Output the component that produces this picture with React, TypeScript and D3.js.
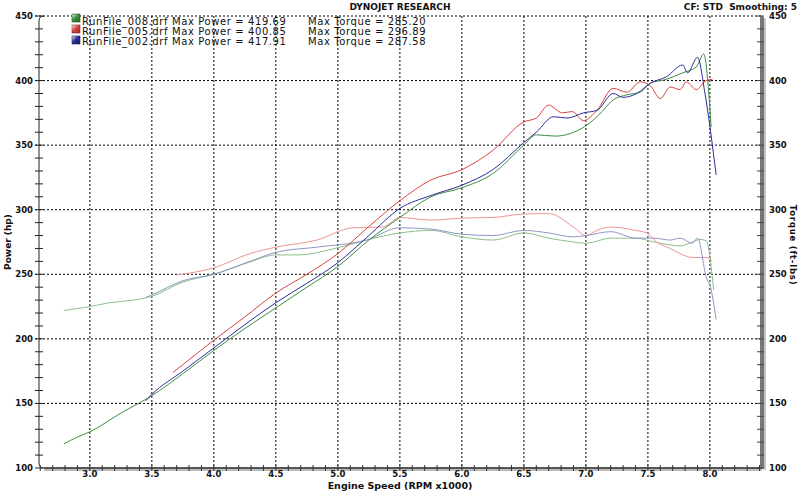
import React from 'react';
import * as d3 from 'd3';

// --- data (rpm x1000, hp / ft-lbs) ---
const runNames = ['RunFile_008.drf', 'RunFile_005.drf', 'RunFile_002.drf'];
const maxPower = ['419.69', '400.85', '417.91'];
const maxTorque = ['285.20', '296.89', '287.58'];

const rpm008Hp = [2.79, 2.9, 3.0, 3.25, 3.5, 3.75, 4.0, 4.25, 4.5, 4.75, 5.0, 5.25, 5.5, 5.75, 6.0, 6.25, 6.5, 6.6, 6.75, 7.0, 7.1, 7.22, 7.33, 7.44, 7.52, 7.65, 7.78, 7.89, 7.95, 8.01];
const hp008 = [118.6, 124, 128, 142.5, 156, 173, 191, 208, 224, 240, 256, 276.5, 294, 310, 317, 328, 350, 358, 357, 365, 373, 385, 389, 391, 398, 401, 406, 410.5, 420.5, 364];

const rpm005Hp = [3.67, 3.75, 4.0, 4.25, 4.5, 4.75, 5.0, 5.25, 5.5, 5.75, 6.0, 6.25, 6.5, 6.6, 6.7, 6.81, 6.89, 6.98, 7.09, 7.22, 7.33, 7.44, 7.52, 7.6, 7.68, 7.76, 7.81, 7.89, 7.97, 8.02];
const hp005 = [174, 180, 199, 217, 235.5, 250, 266, 287, 307, 323, 331, 346, 368, 371, 381, 375, 376, 369, 377, 394, 391, 399, 396, 386, 395, 393, 399, 393, 400, 401];

const rpm002Hp = [3.45, 3.5, 3.75, 4.0, 4.25, 4.5, 4.75, 5.0, 5.25, 5.5, 5.75, 6.0, 6.25, 6.5, 6.6, 6.74, 6.85, 6.98, 7.09, 7.22, 7.3, 7.41, 7.52, 7.65, 7.78, 7.82, 7.9, 7.96, 8.05];
const hp002 = [152, 157, 175, 193, 211, 228, 243, 259, 280, 301, 311, 319, 331, 352, 360, 372, 371, 375, 377, 390, 387, 390, 398, 403, 412, 406, 418, 390, 327];

const rpm008Tq = [2.79, 3.0, 3.16, 3.35, 3.5, 3.75, 4.0, 4.29, 4.5, 4.69, 4.96, 5.23, 5.5, 5.75, 6.0, 6.25, 6.5, 6.7, 6.9, 7.0, 7.2, 7.4, 7.55, 7.68, 7.76, 7.86, 7.92, 7.97, 8.03];
const tq008 = [222, 225, 228, 230, 233, 244, 250, 259.5, 265, 265, 269.6, 276.5, 282, 284, 279, 276.5, 282, 278, 275, 274, 278, 278, 275, 272.7, 272, 275, 277, 276, 238];

const rpm005Tq = [3.7, 4.0, 4.29, 4.5, 4.83, 5.12, 5.36, 5.5, 5.75, 6.0, 6.25, 6.5, 6.7, 6.9, 7.0, 7.09, 7.2, 7.4, 7.49, 7.57, 7.68, 7.76, 7.86, 7.97, 8.02];
const tq005 = [249.5, 255, 266, 271, 276.5, 286, 286.6, 294, 292, 293.5, 294, 296.7, 297, 286.6, 280, 284, 286.6, 284, 282, 275, 270, 266, 263, 263, 260];

const rpm002Tq = [3.45, 3.5, 3.75, 4.0, 4.29, 4.5, 4.83, 5.23, 5.5, 5.75, 6.0, 6.25, 6.5, 6.7, 6.9, 7.0, 7.2, 7.4, 7.55, 7.68, 7.76, 7.86, 7.9, 7.97, 8.01, 8.05];
const tq002 = [232, 234, 245, 250, 260, 267, 271, 276.5, 286, 285, 281, 280, 284, 282, 279, 280, 283, 278, 278, 276.5, 278, 274, 278, 248, 238, 215];

const xTicks = [3.0, 3.5, 4.0, 4.5, 5.0, 5.5, 6.0, 6.5, 7.0, 7.5, 8.0];
const yTicks = [100, 150, 200, 250, 300, 350, 400, 450];

const runColors = ['#3d8f3d', '#d8443e', '#2c2c98'];
const torqueColors = ['#8cbf8c', '#ee9494', '#8d97c6'];

const W = 800;
const H = 494;
const FONT = '"DejaVu Sans", Verdana, sans-serif';

const zip = (xs: number[], ys: number[]) => xs.map((r, i) => [r, ys[i]] as [number, number]);

const App: React.FC = () => {
  const x = d3.scaleLinear().domain([2.59, 8.42]).range([39, 762]);
  const y = d3.scaleLinear().domain([100, 450]).range([468, 16]);

  const line = d3.line<[number, number]>()
    .x(d => x(d[0]))
    .y(d => y(d[1]))
    .curve(d3.curveMonotoneX);

  const powerSeries = [zip(rpm008Hp, hp008), zip(rpm005Hp, hp005), zip(rpm002Hp, hp002)];
  const torqueSeries = [zip(rpm008Tq, tq008), zip(rpm005Tq, tq005), zip(rpm002Tq, tq002)];

  const [x0, x1] = x.range();
  const [yb, yt] = y.range();

  const minorY = d3.range(100, 451, 10);
  const minorX = d3.range(26, 85, 1).map(v => v / 10);

  return (
    <svg width={W} height={H} style={{ position: 'absolute', left: 0, top: 0, background: '#fff' }} fontFamily={FONT}>
      <defs>
        {runColors.map((c, i) => (
          <linearGradient key={i} id={`sq${i}`} x1="0" y1="0" x2="1" y2="1">
            <stop offset="0" stopColor="#fff" />
            <stop offset="0.45" stopColor={c} />
            <stop offset="1" stopColor={d3.color(c)!.darker(1).toString()} />
          </linearGradient>
        ))}
      </defs>

      {/* header */}
      <text x={400} y={9.5} textAnchor="middle" fontSize={9} fontWeight="bold" fill="#111">DYNOJET RESEARCH</text>
      <text x={797} y={9.5} textAnchor="end" fontSize={9} fontWeight="bold" fill="#111" style={{ whiteSpace: 'pre' }}>CF: STD  Smoothing: 5</text>

      {/* grid */}
      {xTicks.map(t => (
        <line key={`gx${t}`} x1={x(t)} x2={x(t)} y1={yt} y2={yb} stroke="#000" strokeWidth={1} strokeDasharray="2,2" />
      ))}
      {yTicks.filter(t => t > 100).map(t => (
        <line key={`gy${t}`} x1={35} x2={x1} y1={y(t)} y2={y(t)} stroke="#000" strokeWidth={1} strokeDasharray="2,2" />
      ))}

      {/* left minor ticks */}
      {minorY.map(t => (
        <line key={`ly${t}`} x1={35} x2={43} y1={y(t)} y2={y(t)} stroke="#222" strokeWidth={1} />
      ))}

      {/* frame: left axis with rounded corners */}
      <path d={`M${x0 + 5},${yt} Q${x0},${yt} ${x0},${yt + 5} L${x0},${yb - 5} Q${x0},${yb} ${x0 + 5},${yb}`} fill="none" stroke="#222" strokeWidth={1} />
      {/* bottom axis with shadow */}
      <line x1={x0 + 5} x2={x1} y1={yb + 2} y2={yb + 2} stroke="#bbb" strokeWidth={2} />
      <line x1={x0 + 5} x2={x1} y1={yb} y2={yb} stroke="#555" strokeWidth={2} />
      {minorX.map(t => (
        <line key={`bx${t}`} x1={x(t)} x2={x(t)} y1={yb - 3} y2={yb + 3} stroke="#333" strokeWidth={1} />
      ))}
      {/* right axis: thick gray bar */}
      <rect x={x1 + 1} y={yt + 2} width={3} height={yb - yt} fill="#c4c4c4" rx={1.5} />
      <rect x={x1 - 2} y={yt} width={4} height={yb - yt + 1} fill="#777" rx={2} />
      {minorY.map(t => (
        <line key={`ry${t}`} x1={x1 - 5} x2={x1 + 2} y1={y(t)} y2={y(t)} stroke="#444" strokeWidth={1} />
      ))}

      {/* torque curves */}
      {torqueSeries.map((s, i) => (
        <path key={`tq${i}`} d={line(s) ?? ''} fill="none" stroke={torqueColors[i]} strokeWidth={1} />
      ))}
      {/* power curves */}
      {powerSeries.map((s, i) => (
        <path key={`hp${i}`} d={line(s) ?? ''} fill="none" stroke={runColors[i]} strokeWidth={1} />
      ))}

      {/* y labels left and right */}
      {yTicks.map(t => (
        <text key={`yl${t}`} x={33} y={y(t) + 3} textAnchor="end" fontSize={8.5} fontWeight="bold" fill="#111">{t}</text>
      ))}
      {yTicks.map(t => (
        <text key={`yr${t}`} x={769} y={y(t) + 3} textAnchor="start" fontSize={8.5} fontWeight="bold" fill="#111">{t}</text>
      ))}
      {/* x labels */}
      {xTicks.map(t => (
        <text key={`xl${t}`} x={x(t)} y={477} textAnchor="middle" fontSize={8.5} fontWeight="bold" fill="#111">{t.toFixed(1)}</text>
      ))}

      {/* axis titles */}
      <text x={400} y={489} textAnchor="middle" fontSize={9.5} fontWeight="bold" fill="#111">Engine Speed (RPM x1000)</text>
      <text transform="translate(11,242) rotate(-90)" textAnchor="middle" fontSize={9} fontWeight="bold" fill="#111">Power (hp)</text>
      <text transform="translate(790,245) rotate(90)" textAnchor="middle" fontSize={8.5} fontWeight="bold" letterSpacing={0.8} fill="#111">Torque (ft-lbs)</text>

      {/* legend */}
      {runNames.map((n, i) => (
        <g key={n}>
          <rect x={72} y={14 + i * 11} width={8} height={8} fill={`url(#sq${i})`} stroke={d3.color(runColors[i])!.darker(1.5).toString()} strokeWidth={0.6} />
          <text x={82} y={25 + i * 10} fontSize={10} letterSpacing={0.6} fill="#111">{`${n} Max Power = ${maxPower[i]}`}</text>
          <text x={308} y={25 + i * 10} fontSize={10} letterSpacing={0.6} fill="#111">{`Max Torque = ${maxTorque[i]}`}</text>
        </g>
      ))}
    </svg>
  );
};

export default App;
